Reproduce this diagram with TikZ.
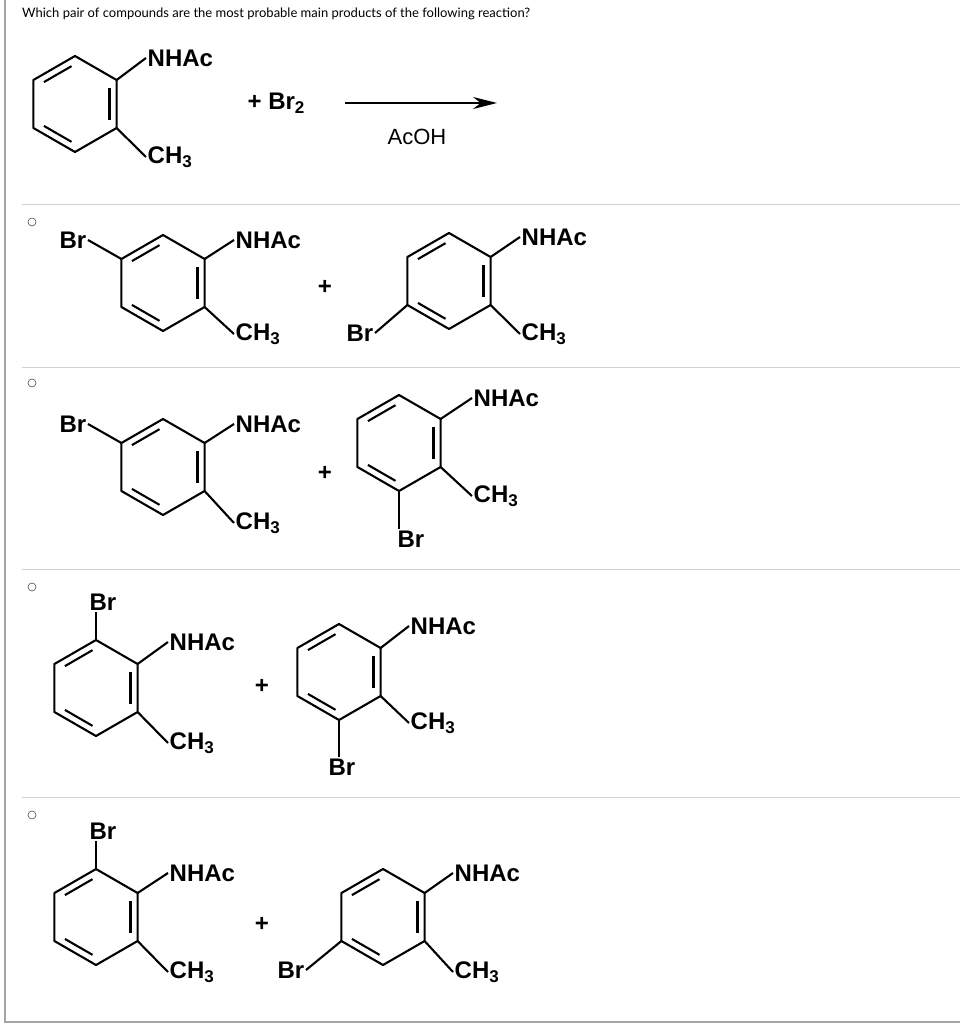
\documentclass[tikz,border=0pt]{standalone}
\usepackage{fontspec}
\setmainfont{Liberation Sans}[BoldFont=Liberation Sans Bold]
\newfontfamily\qfont{Lato}
\newfontfamily\lblfont{Liberation Sans Bold}
\usetikzlibrary{calc,arrows.meta}
\newcommand\benz[3]{%
  \coordinate (#1) at (#2,#3);
  \coordinate (#1-t) at (#2,#3-48);
  \coordinate (#1-ur) at (#2+41.6,#3-24);
  \coordinate (#1-lr) at (#2+41.6,#3+24);
  \coordinate (#1-b) at (#2,#3+48);
  \coordinate (#1-ll) at (#2-41.6,#3+24);
  \coordinate (#1-ul) at (#2-41.6,#3-24);
  \draw[bond,line join=round] (#1-t)--(#1-ur)--(#1-lr)--(#1-b)--(#1-ll)--(#1-ul)--cycle;
  \draw[bond,shorten >=4pt,shorten <=4pt] ($(#1)!0.83!(#1-ul)$)--($(#1)!0.83!(#1-t)$);
  \draw[bond,shorten >=4pt,shorten <=4pt] ($(#1)!0.83!(#1-ur)$)--($(#1)!0.83!(#1-lr)$);
  \draw[bond,shorten >=4pt,shorten <=4pt] ($(#1)!0.83!(#1-ll)$)--($(#1)!0.83!(#1-b)$);
}
\newcommand\methyl{CH\raisebox{-0.35ex}{\fontsize{17}{17}\selectfont 3}}
\begin{document}
\begin{tikzpicture}[x=1pt,y=-1pt,
  bond/.style={line width=2.1pt},
  lbl/.style={font=\lblfont\fontsize{24}{24}\selectfont,inner sep=1.5pt},
  sep/.style={draw=black!18,line width=1pt},
  radio/.style={draw=black!70,line width=0.6pt,circle,minimum size=8pt,inner sep=0pt}]
\useasboundingbox (0,0) rectangle (960,1024);
\draw[draw=black!35,line width=1.5pt] (5,0) -- (5,1022) -- (960,1022);
\node[anchor=west,font=\qfont\fontsize{13}{13}\selectfont,inner sep=0pt] (q) at (22,14) {Which pair of compounds are the most probable main products of the following reaction?};
\foreach \y in {205,367,569,797} \draw[sep] (22,\y) -- (960,\y);
\foreach \y/\n in {222/ra,383/rb,587/rc,815/rd} \node[radio] (\n) at (32,\y) {};
% reactant
\benz{m0}{75}{104}
\node[lbl,anchor=west] (m0n) at (146,58) {NHAc};
\node[lbl,anchor=west] (m0c) at (146,157) {\methyl};
\draw[bond] (m0-ur) -- (m0n.west);
\draw[bond] (m0-lr) -- (m0c.west);
\node[lbl] (br2) at (276,103) {+ Br\raisebox{-0.35ex}{\fontsize{17}{17}\selectfont 2}};
\coordinate (a1) at (345,103); \coordinate (a2) at (497,103);
\draw[line width=1.8pt,-{Stealth[length=24pt,width=12pt]}] (a1) -- (a2);
\node[font=\fontsize{22}{22}\selectfont] (acoh) at (417,137) {AcOH};
% Row A
\benz{a1r}{163}{283}
\node[lbl,anchor=west] (a1n) at (234,240) {NHAc};
\node[lbl,anchor=west] (a1c) at (234,334) {\methyl};
\node[lbl,anchor=east] (a1b) at (88,240) {Br};
\draw[bond] (a1r-ur) -- (a1n.west); \draw[bond] (a1r-lr) -- (a1c.west); \draw[bond] (a1r-ul) -- (a1b.east);
\node[lbl] (pa) at (325,287) {+};
\benz{a2r}{449}{281}
\node[lbl,anchor=west] (a2n) at (520,237) {NHAc};
\node[lbl,anchor=west] (a2c) at (520,334) {\methyl};
\node[lbl,anchor=east] (a2b) at (375,333) {Br};
\draw[bond] (a2r-ur) -- (a2n.west); \draw[bond] (a2r-lr) -- (a2c.west); \draw[bond] (a2r-ll) -- (a2b.east);
% Row B
\benz{b1r}{163}{467}
\node[lbl,anchor=west] (b1n) at (234,424) {NHAc};
\node[lbl,anchor=west] (b1c) at (234,523) {\methyl};
\node[lbl,anchor=east] (b1b) at (88,424) {Br};
\draw[bond] (b1r-ur) -- (b1n.west); \draw[bond] (b1r-lr) -- (b1c.west); \draw[bond] (b1r-ul) -- (b1b.east);
\node[lbl] (pb) at (325,473) {+};
\benz{b2r}{399}{443}
\node[lbl,anchor=west] (b2n) at (472,398) {NHAc};
\node[lbl,anchor=west] (b2c) at (472,496) {\methyl};
\node[lbl,anchor=north] (b2b) at (411,529) {Br};
\draw[bond] (b2r-b) -- (b2b.north -| b2r-b);
\draw[bond] (b2r-ur) -- (b2n.west); \draw[bond] (b2r-lr) -- (b2c.west);
% Row C
\benz{c1r}{96}{688}
\node[lbl,anchor=west] (c1n) at (168,642) {NHAc};
\node[lbl,anchor=west] (c1c) at (168,743) {\methyl};
\node[lbl,anchor=south] (c1b) at (103,612) {Br};
\draw[bond] (c1r-ur) -- (c1n.west); \draw[bond] (c1r-lr) -- (c1c.west); \draw[bond] (c1r-t) -- (c1b.south -| c1r-t);
\node[lbl] (pc) at (262,686) {+};
\benz{c2r}{339}{672}
\node[lbl,anchor=west] (c2n) at (409,626) {NHAc};
\node[lbl,anchor=west] (c2c) at (409,723) {\methyl};
\node[lbl,anchor=north] (c2b) at (342,757) {Br};
\draw[bond] (c2r-ur) -- (c2n.west); \draw[bond] (c2r-lr) -- (c2c.west); \draw[bond] (c2r-b) -- (c2b.north -| c2r-b);
% Row D
\benz{d1r}{96}{917}
\node[lbl,anchor=west] (d1n) at (168,873) {NHAc};
\node[lbl,anchor=west] (d1c) at (168,972) {\methyl};
\node[lbl,anchor=south] (d1b) at (103,841) {Br};
\draw[bond] (d1r-ur) -- (d1n.west); \draw[bond] (d1r-lr) -- (d1c.west); \draw[bond] (d1r-t) -- (d1b.south -| d1r-t);
\node[lbl] (pd) at (262,924) {+};
\benz{d2r}{383}{917}
\node[lbl,anchor=west] (d2n) at (453,873) {NHAc};
\node[lbl,anchor=west] (d2c) at (453,972) {\methyl};
\node[lbl,anchor=east] (d2b) at (306,970) {Br};
\draw[bond] (d2r-ur) -- (d2n.west); \draw[bond] (d2r-lr) -- (d2c.west); \draw[bond] (d2r-ll) -- (d2b.east);
\end{tikzpicture}
\end{document}
